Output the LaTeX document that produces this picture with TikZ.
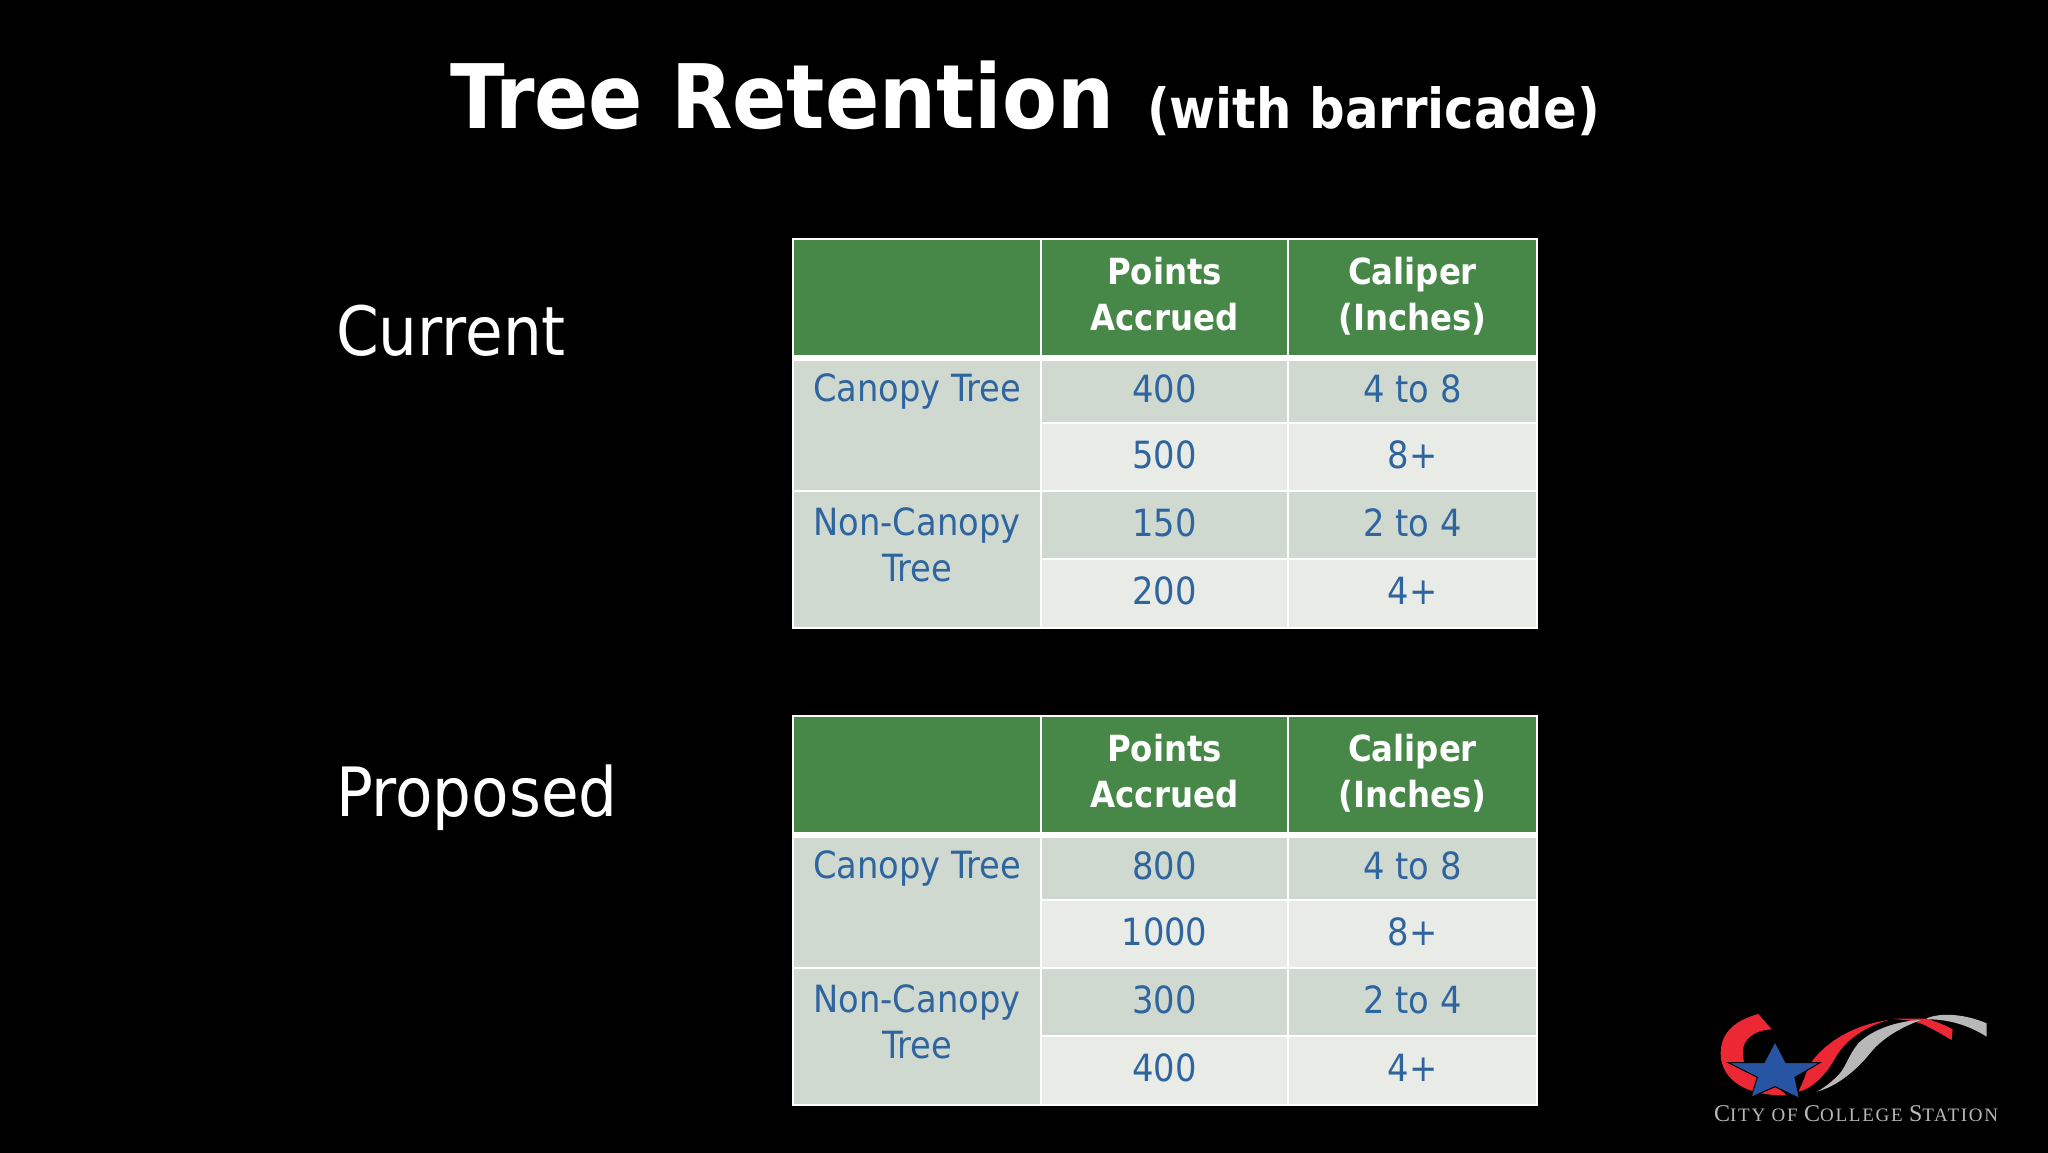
\documentclass[tikz,border=0pt]{standalone}
\usepackage{fontspec}
\setmainfont{DejaVu Sans Condensed}
\newfontfamily\logofont[LetterSpace=9]{Liberation Serif}
\definecolor{headgreen}{RGB}{71,136,72}
\definecolor{rowdark}{RGB}{208,217,208}
\definecolor{rowlight}{RGB}{233,235,231}
\definecolor{cellblue}{RGB}{47,101,159}
\definecolor{logored}{RGB}{236,40,52}
\definecolor{logoblue}{RGB}{40,84,164}
\definecolor{logogrey}{RGB}{184,184,184}
\newcommand{\cellsize}{\fontsize{37.5}{46}\selectfont}
\begin{document}
\begin{tikzpicture}[x=1pt,y=-1pt]

%
% Styles
%
\tikzstyle{cell}     = [draw=white,line width=2.5pt,inner sep=0pt,align=center,font=\cellsize]
\tikzstyle{headcell} = [cell,fill=headgreen,text=white,minimum height=118pt,font=\fontsize{36}{46}\bfseries\selectfont]
\tikzstyle{darkcell} = [cell,fill=rowdark,text=cellblue,text depth=5pt]
\tikzstyle{litecell} = [cell,fill=rowlight,text=cellblue,text depth=5pt]
\tikzstyle{sidecell} = [cell,fill=rowdark]
\tikzstyle{sidetext} = [inner sep=0pt,align=center,text=cellblue,font=\cellsize,anchor=north,yshift=-18pt]
\tikzstyle{slabel}   = [inner sep=0pt,anchor=base west,text=white,font=\fontsize{68}{74}\selectfont]

\useasboundingbox (0,0) rectangle (2048,1152);
\fill[black] (-3,-3) rectangle (2051,1155);

\node[inner sep=0pt,anchor=base west,text=white,font=\fontsize{89}{100}\bfseries\selectfont] (title) at (450,128) {Tree Retention};
\node[inner sep=0pt,anchor=base west,text=white,font=\fontsize{55.3}{70}\bfseries\selectfont] (subtitle) at (1147,128) {(with barricade)};
\node[slabel] (current)  at (336,355) {Current};
\node[slabel] (proposed) at (336,816) {Proposed};

%
% Tables
%
\foreach \tab/\toprow/\pa/\pb/\pc/\pd in {cur/239/400/500/150/200,pro/716/800/1000/300/400} {
  \node[headcell,minimum width=248pt] (\tab h1) at (917,\toprow+59) {};
  \node[headcell,minimum width=247pt] (\tab h2) at (1164.5,\toprow+59) {Points\strut\\Accrued\strut};
  \node[headcell,minimum width=249pt] (\tab h3) at (1412.5,\toprow+59) {Caliper\strut\\(Inches)\strut};
  \draw[white,line width=6pt] (\tab h1.south west) -- (\tab h3.south east);

  \node[sidecell,minimum width=248pt,minimum height=131pt,label={[sidetext,yshift=3pt]north:Canopy Tree}] (\tab s1) at (917,\toprow+186.5) {};
  \node[sidecell,minimum width=248pt,minimum height=137pt,label={[sidetext]north:Non-Canopy\\Tree}] (\tab s2) at (917,\toprow+320.5) {};

  \node[darkcell,minimum width=247pt,minimum height=63pt] (\tab a2) at (1164.5,\toprow+152.5) {\pa};
  \node[darkcell,minimum width=249pt,minimum height=63pt] (\tab a3) at (1412.5,\toprow+152.5) {4 to 8};
  \node[litecell,minimum width=247pt,minimum height=68pt] (\tab b2) at (1164.5,\toprow+218) {\pb};
  \node[litecell,minimum width=249pt,minimum height=68pt] (\tab b3) at (1412.5,\toprow+218) {8+};
  \node[darkcell,minimum width=247pt,minimum height=68pt] (\tab c2) at (1164.5,\toprow+286) {\pc};
  \node[darkcell,minimum width=249pt,minimum height=68pt] (\tab c3) at (1412.5,\toprow+286) {2 to 4};
  \node[litecell,minimum width=247pt,minimum height=69pt] (\tab d2) at (1164.5,\toprow+354.5) {\pd};
  \node[litecell,minimum width=249pt,minimum height=69pt] (\tab d3) at (1412.5,\toprow+354.5) {4+};
}

%
% Logo
%
\begin{scope}[shift={(1680,990)},x=0.3333pt,y=-0.3333pt]
\fill[logored] (235,72) .. controls (150,95) and (122,140) .. (122,190)
  .. controls (122,250) and (170,318) .. (320,316) -- (280,280) -- (235,265)
  .. controls (200,245) and (180,210) .. (192,165)
  .. controls (205,135) and (235,120) .. (275,118) -- cycle;
\fill[logored] (355,305) .. controls (380,255) and (380,235) .. (395,215)
  .. controls (440,155) and (520,105) .. (625,90)
  .. controls (540,115) and (490,160) .. (465,205)
  .. controls (440,250) and (400,295) .. (355,305) -- cycle;
\fill[logored] (640,86) -- (740,86) .. controls (770,95) and (800,108) .. (818,118) -- (815,150)
  .. controls (780,130) and (745,108) .. (715,98) -- (690,92) -- cycle;
\fill[logogrey] (410,305) .. controls (470,290) and (530,240) .. (570,190)
  .. controls (610,140) and (670,110) .. (722,90)
  .. controls (660,92) and (580,115) .. (535,160)
  .. controls (505,195) and (495,240) .. (470,260)
  .. controls (450,280) and (430,295) .. (410,305) -- cycle;
\fill[logogrey] (740,85) .. controls (780,68) and (850,70) .. (920,100) -- (920,140)
  .. controls (870,108) and (810,88) .. (745,88) -- cycle;
\fill[logoblue,draw=black,line width=1pt] (285,155) -- (318,218) -- (420,218) -- (345,262) -- (358,325)
  -- (285,290) -- (213,322) -- (232,262) -- (145,218) -- (252,218) -- cycle;
\end{scope}
\node[inner sep=0pt,anchor=base west,text=logogrey,font=\logofont\fontsize{24}{26}\selectfont] (logotext) at (1714,1121)
  {C{\fontsize{19}{26}\selectfont ITY OF }C{\fontsize{19}{26}\selectfont OLLEGE }S{\fontsize{19}{26}\selectfont TATION}};

\end{tikzpicture}
\end{document}
